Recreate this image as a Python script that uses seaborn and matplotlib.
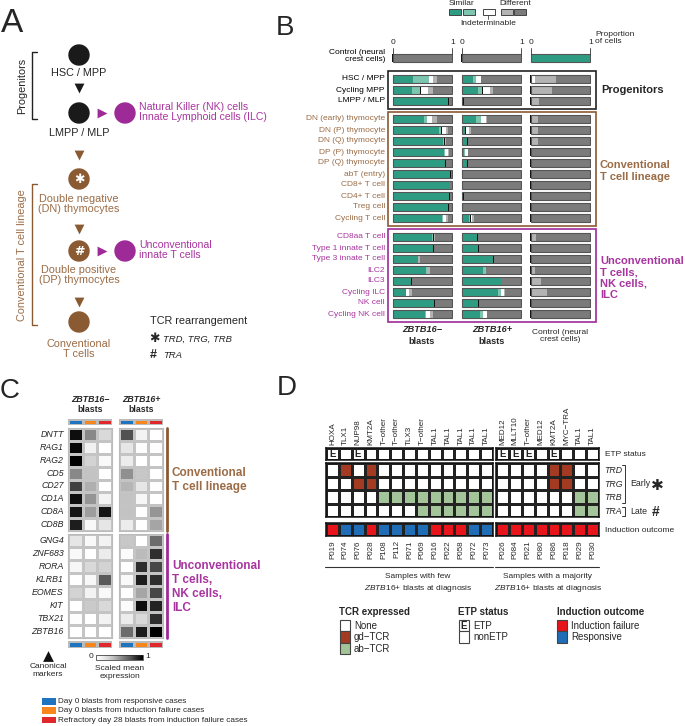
import numpy as np
import pandas as pd
import seaborn as sns
import matplotlib.pyplot as plt
from matplotlib.patches import Rectangle, Circle
from matplotlib.colors import ListedColormap

sns.set_theme(style="white")
plt.rcParams['font.family'] = ['Liberation Sans', 'DejaVu Sans']
plt.rcParams['mathtext.fontset'] = 'custom'
plt.rcParams['mathtext.it'] = 'Liberation Sans:italic'
plt.rcParams['mathtext.rm'] = 'Liberation Sans'
plt.rcParams['mathtext.bf'] = 'Liberation Sans:bold'

# ---------------- data ----------------
# panel B: proportion of cells per cell type (rest = "different", dark grey)
cell_types = ['Control (neural\ncrest cells)', 'HSC / MPP', 'Cycling MPP', 'LMPP / MLP',
              'DN (early) thymocyte', 'DN (P) thymocyte', 'DN (Q) thymocyte', 'DP (P) thymocyte',
              'DP (Q) thymocyte', 'abT (entry)', 'CD8+ T cell', 'CD4+ T cell', 'Treg cell',
              'Cycling T cell', 'CD8aa T cell', 'Type 1 innate T cell', 'Type 3 innate T cell',
              'ILC2', 'ILC3', 'Cycling ILC', 'NK cell', 'Cycling NK cell']
neg_sim = [0, .34, .32, .92, .52, .78, .85, .86, .88, .97, .96, .95, .93, .83, .66, .69, .43, .56, .31, .23, .70, .54]
neg_sim2 = [0, .27, .15, .02, .06, .04, .02, .02, 0, 0, 0, 0, .01, .02, .03, 0, 0, .02, 0, 0, 0, .02]
neg_ind = [0, .065, .12, .01, .08, .08, .01, .04, 0, 0, 0, 0, 0, .04, 0, 0, 0, 0, 0, .04, 0, .06]
neg_dif2 = [0, .065, .08, 0, .08, .03, .02, .02, 0, 0, 0, 0, 0, .03, .02, 0, .03, .05, 0, .05, 0, .06]
pos_sim = [0, .19, .28, .03, .24, .05, .10, .04, .10, .01, .02, .03, .04, .12, .25, .28, .52, .36, .66, .61, .28, .31]
pos_sim2 = [0, .05, .07, 0, .09, .02, 0, .02, 0, 0, 0, 0, 0, .03, .02, 0, .02, .03, 0, .05, 0, .05]
pos_ind = [0, .09, .13, 0, .07, .06, 0, .04, 0, 0, 0, 0, 0, .03, 0, 0, 0, 0, 0, .05, 0, .06]
pos_dif2 = [0, 0, .04, 0, .02, .02, 0, .01, 0, 0, 0, 0, 0, .02, 0, 0, 0, .02, 0, .02, 0, .01]
ctl_sim = [1] + [0] * 21
ctl_sim2 = [0] * 22
ctl_ind = [0, .07, .02, .02, 0, 0, .02, 0, 0, 0, 0, 0, 0, 0, 0, 0, 0, 0, 0, .01, 0, 0]
ctl_dif2 = [0, .36, .33, .12, .13, .13, .10, .02, .01, 0, 0, 0, 0, 0, .09, .01, 0, .08, .17, .27, 0, .02]

# panel C: scaled mean expression (blue, orange, red groups)
conv_genes = ['DNTT', 'RAG1', 'RAG2', 'CD5', 'CD27', 'CD1A', 'CD8A', 'CD8B']
unconv_genes = ['GNG4', 'ZNF683', 'RORA', 'KLRB1', 'EOMES', 'KIT', 'TBX21', 'ZBTB16']
neg_conv = [[.95, .55, .25], [.98, .12, 0], [1, .28, .05], [.55, .35, 0],
            [.80, .42, 0], [.95, .50, .10], [.93, .48, .93], [.90, .06, .18]]
neg_unconv = [[.18, .05, .10], [.05, 0, .15], [.08, .25, .28], [0, .06, .72],
              [.28, .10, .05], [0, .32, .25], [.02, 0, .10], [0, 0, 0]]
pos_conv = [[.75, .10, 0], [.18, .03, .02], [.15, 0, 0], [.52, .33, 0],
            [.40, .18, .02], [.35, .08, 0], [.35, 0, .50], [.15, 0, .45]]
pos_unconv = [[.33, 0, .65], [.03, .38, .85], [0, .85, .78], [.05, .90, .85],
              [0, .45, .78], [.03, .95, .88], [.15, .25, .85], [.65, .90, 1]]
group_labels = ['Day 0 blasts from responsive cases',
                'Day 0 blasts from induction failure cases',
                'Refractory day 28 blasts from induction failure cases']

# panel D
few_genes = ['HOXA', 'TLX1', 'NUP98', 'KMT2A', 'T\u2212other', 'T\u2212other', 'TLX3', 'T\u2212other',
             'TAL1', 'TAL1', 'TAL1', 'TAL1', 'TAL1']
few_ids = ['P019', 'P074', 'P076', 'P028', 'P108', 'P112', 'P071', 'P069', 'P016', 'P022', 'P058', 'P072', 'P073']
few_etp = ['E', '', 'E', '', '', '', '', '', '', '', '', '', '']
few_trd = [0, 1, 0, 1, 0, 0, 0, 0, 0, 0, 0, 0, 0]
few_trg = [0, 0, 1, 1, 0, 0, 0, 0, 0, 0, 0, 0, 0]
few_trb = [0, 0, 0, 0, 2, 2, 2, 2, 2, 2, 2, 2, 2]
few_tra = [0, 0, 0, 0, 0, 0, 0, 2, 2, 2, 2, 2, 2]
few_out = [0, 1, 1, 0, 1, 1, 1, 1, 0, 0, 0, 1, 1]
maj_genes = ['MED12', 'MLLT10', 'T\u2212other', 'MED12', 'KMT2A', 'MYC\u2212TRA', 'TAL1', 'TAL1']
maj_ids = ['P026', 'P084', 'P021', 'P080', 'P086', 'P018', 'P029', 'P030']
maj_etp = ['E', 'E', 'E', '', 'E', '', '', '']
maj_trd = [0, 0, 0, 0, 1, 1, 0, 0]
maj_trg = [0, 0, 0, 0, 1, 1, 0, 0]
maj_trb = [0, 0, 0, 0, 0, 0, 2, 2]
maj_tra = [0, 0, 0, 0, 0, 0, 2, 2]
maj_out = [0, 0, 0, 0, 0, 0, 0, 0]
tcr_rows = ['TRD', 'TRG', 'TRB', 'TRA']

# ---------------- colours ----------------
T1, T2, LG, DG = '#2e9c83', '#7cc5ae', '#b3b3b3', '#7b7b7b'
BRN, BRT, PUR, PUT = '#8a5a33', '#9b6c46', '#9e2a98', '#a8359f'
BLUE, ORNG, RED = '#1f74bf', '#f7861c', '#e0282c'
GD, AB, IF, RS = '#a33a22', '#a4c59a', '#e8141c', '#1e6db6'

W, H = 685, 726
fig = plt.figure(figsize=(W / 100, H / 100), dpi=100)


def box(x0, y0, x1, y1):
    a = fig.add_axes([x0 / W, 1 - y1 / H, (x1 - x0) / W, (y1 - y0) / H])
    a.patch.set_alpha(0)
    return a


ov = fig.add_axes([0, 0, 1, 1], zorder=10)
ov.set_xlim(0, W)
ov.set_ylim(H, 0)
ov.axis('off')
ov.patch.set_alpha(0)

# ---------------- panel A ----------------
ov.text(1, 24, 'A', fontsize=24, va='center')
fa = 7.8


def node(x, y, c, sym=None):
    ov.add_patch(Circle((x, y), 10, color=c))
    if sym:
        ov.text(x, y + 0.5, sym, color='white', ha='center', va='center', fontsize=9, fontweight='bold',
                family='DejaVu Sans')


def tri(x, y, c, m='v'):
    ov.scatter([x], [y], marker=m, s=50, color=c, linewidths=0)


BLK = '#1a1a1a'
node(79, 55, BLK)
ov.text(79, 73, 'HSC / MPP', ha='center', va='center', fontsize=fa)
tri(79, 88, BLK)
node(79, 113, BLK)
ov.text(79, 133, 'LMPP / MLP', ha='center', va='center', fontsize=fa)
tri(79, 155, BRN)
node(79, 179, BRN, '\u2731')
ov.text(79, 204, 'Double negative\n(DN) thymocytes', ha='center', va='center', fontsize=fa, color=BRT,
        linespacing=1.1)
tri(79, 229, BRN)
node(79, 251, BRN, '#')
ov.text(79, 275, 'Double positive\n(DP) thymocytes', ha='center', va='center', fontsize=fa, color=BRT,
        linespacing=1.1)
tri(79, 302, BRN)
node(79, 322, BRN)
ov.text(79, 349, 'Conventional\nT cells', ha='center', va='center', fontsize=fa, color=BRT, linespacing=1.1)
for yy, txt in [(113, 'Natural Killer (NK) cells\nInnate Lymphoid cells (ILC)'),
                (251, 'Unconventional\ninnate T cells')]:
    tri(102, yy, PUR, '>')
    node(125, yy, PUR)
    ov.text(139, yy - 1, txt, va='center', fontsize=7.6, color=PUT, linespacing=1.1)
ov.plot([37, 32, 32, 37], [52, 52, 119, 119], color='#222', lw=1)
ov.text(22, 86, 'Progenitors', rotation=90, ha='center', va='center', fontsize=fa)
ov.plot([37, 32, 32, 37], [184, 184, 325, 325], color=BRN, lw=1)
ov.text(22, 255, 'Conventional T cell lineage', rotation=90, ha='center', va='center', fontsize=fa, color=BRT)
ov.text(150, 321, 'TCR rearrangement', va='center', fontsize=fa)
ov.text(149, 339, '\u2731', va='center', fontsize=9, family='DejaVu Sans', fontweight='bold')
ov.text(163, 339, 'TRD, TRG, TRB', va='center', fontsize=6.8, style='italic')
ov.text(150, 355, '#', va='center', fontsize=9, fontweight='bold')
ov.text(163, 355, 'TRA', va='center', fontsize=6.8, style='italic')

# ---------------- panel B ----------------
ov.text(276, 28, 'B', fontsize=20, va='center')
rows_y = [58, 79, 90, 101] + [119 + 11 * i for i in range(10)] + [237 + 11 * i for i in range(8)]
fb = 6.0
cols = [(392, 453, neg_sim, neg_sim2, neg_ind, neg_dif2),
        (461, 522, pos_sim, pos_sim2, pos_ind, pos_dif2),
        (530, 591, ctl_sim, ctl_sim2, ctl_ind, ctl_dif2)]
for x0, x1, s1, s2, ind, d2 in cols:
    ax = box(x0, 40, x1, 325)
    ax.barh(rows_y, 1, height=8, color=DG, linewidth=0)
    left = np.zeros(len(rows_y))
    for vals, c in zip([s1, s2, ind, d2], [T1, T2, 'white', LG]):
        vals = np.array(vals, dtype=float)
        ax.barh(rows_y, vals, left=left, height=8, color=c, linewidth=0)
        left = left + vals
        if c == T2:
            ax.barh(rows_y, 0.014, left=left - 0.007, height=8, color='#111', linewidth=0)
    ax.barh(rows_y, 1, height=8, fill=False, edgecolor='#555', linewidth=0.8)
    ax.set_xlim(-0.01, 1.01)
    ax.set_ylim(325, 40)
    ax.axis('off')
    for xv, lab in [(0, '0'), (1, '1')]:
        ax.plot([xv, xv], [48, 54], color='#333', lw=0.6)
        ax.text(xv, 46, lab, ha='center', va='bottom', fontsize=fb)
ov.text(595, 38, 'Proportion\nof cells', fontsize=fb, va='center', linespacing=1.1)
for i, (lab, y) in enumerate(zip(cell_types, rows_y)):
    c = 'black' if i < 4 else (BRT if i < 14 else PUT)
    ov.text(385, y + (0 if i else -2), lab, ha='right', va='center', fontsize=fb, color=c,
            linespacing=1.1)
ov.add_patch(Rectangle((388, 71), 208, 38, fill=False, ec='#222', lw=1.2))
ov.add_patch(Rectangle((388, 112), 208, 114, fill=False, ec=BRN, lw=1.2))
ov.add_patch(Rectangle((388, 229), 208, 93, fill=False, ec=PUR, lw=1.2))
ov.text(601, 90, 'Progenitors', fontsize=8, fontweight='bold', va='center')
ov.text(600, 171, 'Conventional\nT cell lineage', fontsize=8, fontweight='bold', va='center', color=BRT,
        linespacing=1.15)
ov.text(600, 278, 'Unconventional\nT cells,\nNK cells,\nILC', fontsize=8, fontweight='bold', va='center',
        color=PUT, linespacing=1.15)
for xc, lab in [(422, '\u2212'), (492, '+')]:
    ov.text(xc, 330, 'ZBTB16' + lab, ha='center', va='center', fontsize=6.6, fontweight='bold', style='italic')
    ov.text(xc, 342, 'blasts', ha='center', va='center', fontsize=6.6, fontweight='bold')
ov.text(560, 336, 'Control (neural\ncrest cells)', ha='center', va='center', fontsize=fb, linespacing=1.1)
# legend
for x0, c in [(449, T1), (463, T2), (483, 'white'), (501, LG), (514, DG)]:
    ov.add_patch(Rectangle((x0, 9), 12, 6, fc=c, ec='#444', lw=0.7))
ov.text(462, 3.5, 'Similar', ha='center', va='center', fontsize=fb)
ov.text(515, 3.5, 'Different', ha='center', va='center', fontsize=fb)
ov.plot([488.5, 488.5], [15, 19], color='#444', lw=0.6)
ov.text(488, 23.5, 'Indeterminable', ha='center', va='center', fontsize=fb)

# ---------------- panel C ----------------
ov.text(0, 391, 'C', fontsize=20, va='center')
cmapC = ListedColormap([BLUE, ORNG, RED])
fc = 6.3
for gi, (x0, x1, conv, unconv) in enumerate([(68, 112, neg_conv, neg_unconv), (119, 163, pos_conv, pos_unconv)]):
    for (y0, y1, mat, genes) in [(428, 531, conv, conv_genes), (534, 638, unconv, unconv_genes)]:
        ax = box(x0, y0, x1, y1)
        df = pd.DataFrame(mat, index=genes, columns=['resp', 'fail', 'refr'])
        sns.heatmap(df, ax=ax, cmap='Greys', vmin=0, vmax=1, cbar=False, linewidths=0.9,
                    linecolor='#c4c4c4', xticklabels=False, yticklabels=(gi == 0))
        if gi == 0:
            ax.tick_params(axis='y', length=0, pad=3, labelsize=fc)
            for t in ax.get_yticklabels():
                t.set_rotation(0)
                t.set_fontstyle('italic')
        ax.set_ylabel('')
        for s in ax.spines.values():
            s.set_visible(True)
            s.set_color('#bbbbbb')
            s.set_linewidth(0.8)
    for (y0, y1) in [(419, 425.5), (641, 647.5)]:
        ax = box(x0, y0, x1, y1)
        sns.heatmap(np.array([[0, 1, 2]]), ax=ax, cmap=cmapC, vmin=0, vmax=2, cbar=False, linewidths=0.8,
                    linecolor='#bbbbbb', xticklabels=False, yticklabels=False)
    xc = (x0 + x1) / 2
    ov.text(xc, 399, 'ZBTB16' + ('\u2212' if gi == 0 else '+'), ha='center', va='center', fontsize=6.3,
            fontweight='bold', style='italic')
    ov.text(xc, 410, 'blasts', ha='center', va='center', fontsize=6.3, fontweight='bold')
ov.plot([167, 167], [428, 531], color=BRN, lw=2)
ov.plot([167, 167], [534, 638], color=PUR, lw=2)
ov.text(172, 480, 'Conventional\nT cell lineage', fontsize=8.5, fontweight='bold', va='center', color=BRT,
        linespacing=1.25)
ov.text(172, 587, 'Unconventional\nT cells,\nNK cells,\nILC', fontsize=8.5, fontweight='bold', va='center',
        color=PUT, linespacing=1.25)
ov.scatter([48], [656], marker='^', s=60, color='#111', linewidths=0)
ov.text(48, 670, 'Canonical\nmarkers', ha='center', va='center', fontsize=6, linespacing=1.2)
cax = box(96, 655, 143, 660)
sm = plt.cm.ScalarMappable(cmap='Greys', norm=plt.Normalize(0, 1))
cb = fig.colorbar(sm, cax=cax, orientation='horizontal')
cb.set_ticks([])
cb.outline.set_linewidth(0.5)
ov.text(93, 657, '0', ha='right', va='center', fontsize=6)
ov.text(145, 657, '1', ha='left', va='center', fontsize=6)
ov.text(120, 672, 'Scaled mean\nexpression', ha='center', va='center', fontsize=6, linespacing=1.2)
for i, (lab, c) in enumerate(zip(group_labels, [BLUE, ORNG, RED])):
    ov.add_patch(Rectangle((42, 698 + 9.3 * i), 14, 6.5, fc=c, ec='none'))
    ov.text(58, 701.5 + 9.3 * i, lab, va='center', fontsize=5.9)

# ---------------- panel D ----------------
ov.text(277, 388, 'D', fontsize=20, va='center')
fd = 5.8
cmapT = ListedColormap(['white', GD, AB])
cmapO = ListedColormap([IF, RS])
blocks = [(326, 493, few_genes, few_ids, few_etp, [few_trd, few_trg, few_trb, few_tra], few_out, False),
          (496, 599, maj_genes, maj_ids, maj_etp, [maj_trd, maj_trg, maj_trb, maj_tra], maj_out, True)]
for x0, x1, genes, ids, etp, tcr, out, right in blocks:
    n = len(ids)
    ax = box(x0, 448, x1, 460)
    sns.heatmap(np.zeros((1, n)), ax=ax, cmap=ListedColormap(['white']), cbar=False, linewidths=0.8,
                linecolor='#222', annot=np.array([etp]), fmt='',
                annot_kws={'fontsize': 7, 'fontweight': 'bold', 'color': '#222'},
                xticklabels=genes, yticklabels=['ETP status'] if right else False)
    ax.xaxis.tick_top()
    ax.tick_params(axis='x', length=0, pad=2, labelsize=fd, rotation=90)
    if right:
        ax.yaxis.tick_right()
        ax.tick_params(axis='y', length=0, pad=4, labelsize=6, rotation=0)
    ax = box(x0, 463, x1, 517)
    df = pd.DataFrame(tcr, index=tcr_rows, columns=ids)
    sns.heatmap(df, ax=ax, cmap=cmapT, vmin=0, vmax=2, cbar=False, linewidths=0.9, linecolor='#222',
                xticklabels=False, yticklabels=right)
    if right:
        ax.yaxis.tick_right()
        ax.tick_params(axis='y', length=0, pad=4, labelsize=6.3, rotation=0)
        for t in ax.get_yticklabels():
            t.set_fontstyle('italic')
    ax = box(x0, 523, x1, 536)
    sns.heatmap(np.array([out]), ax=ax, cmap=cmapO, vmin=0, vmax=1, cbar=False, linewidths=0.9,
                linecolor='#222', xticklabels=ids, yticklabels=['Induction outcome'] if right else False)
    ax.tick_params(axis='x', length=0, pad=3, labelsize=fd, rotation=90)
    if right:
        ax.yaxis.tick_right()
        ax.tick_params(axis='y', length=0, pad=4, labelsize=6, rotation=0)
    ov.plot([x0 - 1, x1], [567, 567], color='#333', lw=0.8)
for a in fig.axes[-6:]:
    for s in a.spines.values():
        s.set_visible(True)
        s.set_color('#111')
        s.set_linewidth(1.1)
ov.plot([622, 625, 625, 622], [465, 465, 503, 503], color='#333', lw=0.7)
ov.text(630, 484, 'Early', va='center', fontsize=6.3)
ov.text(651, 485, '\u2731', va='center', fontsize=11, family='DejaVu Sans', fontweight='bold')
ov.plot([622, 625, 625, 622], [507, 507, 516, 516], color='#333', lw=0.7)
ov.text(630, 512, 'Late', va='center', fontsize=6.3)
ov.text(652, 512, '#', va='center', fontsize=10, fontweight='bold')
ov.text(418, 577, 'Samples with few', ha='center', va='center', fontsize=6)
ov.text(418, 588, r'$\mathit{ZBTB16}$+ blasts at diagnosis', ha='center', va='center', fontsize=6)
ov.text(548, 577, 'Samples with a majority', ha='center', va='center', fontsize=6)
ov.text(548, 588, r'$\mathit{ZBTB16}$+ blasts at diagnosis', ha='center', va='center', fontsize=6)
# legends
ov.text(339, 612, 'TCR expressed', fontsize=7, fontweight='bold', va='center')
for i, (lab, c) in enumerate(zip(['None', 'gd\u2212TCR', 'ab\u2212TCR'], ['white', GD, AB])):
    ov.add_patch(Rectangle((340, 620 + 11.3 * i), 10, 11.3, fc=c, ec='#444', lw=0.8))
    ov.text(354, 626 + 11.3 * i, lab, va='center', fontsize=7)
ov.text(458, 612, 'ETP status', fontsize=7, fontweight='bold', va='center')
for i, lab in enumerate(['ETP', 'nonETP']):
    ov.add_patch(Rectangle((459, 620 + 11.3 * i), 10, 11.3, fc='white', ec='#444', lw=0.8))
    ov.text(473, 626 + 11.3 * i, lab, va='center', fontsize=7)
ov.text(464, 626, 'E', ha='center', va='center', fontsize=7, fontweight='bold')
ov.text(557, 612, 'Induction outcome', fontsize=7, fontweight='bold', va='center')
for i, (lab, c) in enumerate(zip(['Induction failure', 'Responsive'], [IF, RS])):
    ov.add_patch(Rectangle((557, 620 + 11.3 * i), 10, 11.3, fc=c, ec='#444', lw=0.8))
    ov.text(571, 626 + 11.3 * i, lab, va='center', fontsize=7)

fig.savefig('out.png', dpi=100)
